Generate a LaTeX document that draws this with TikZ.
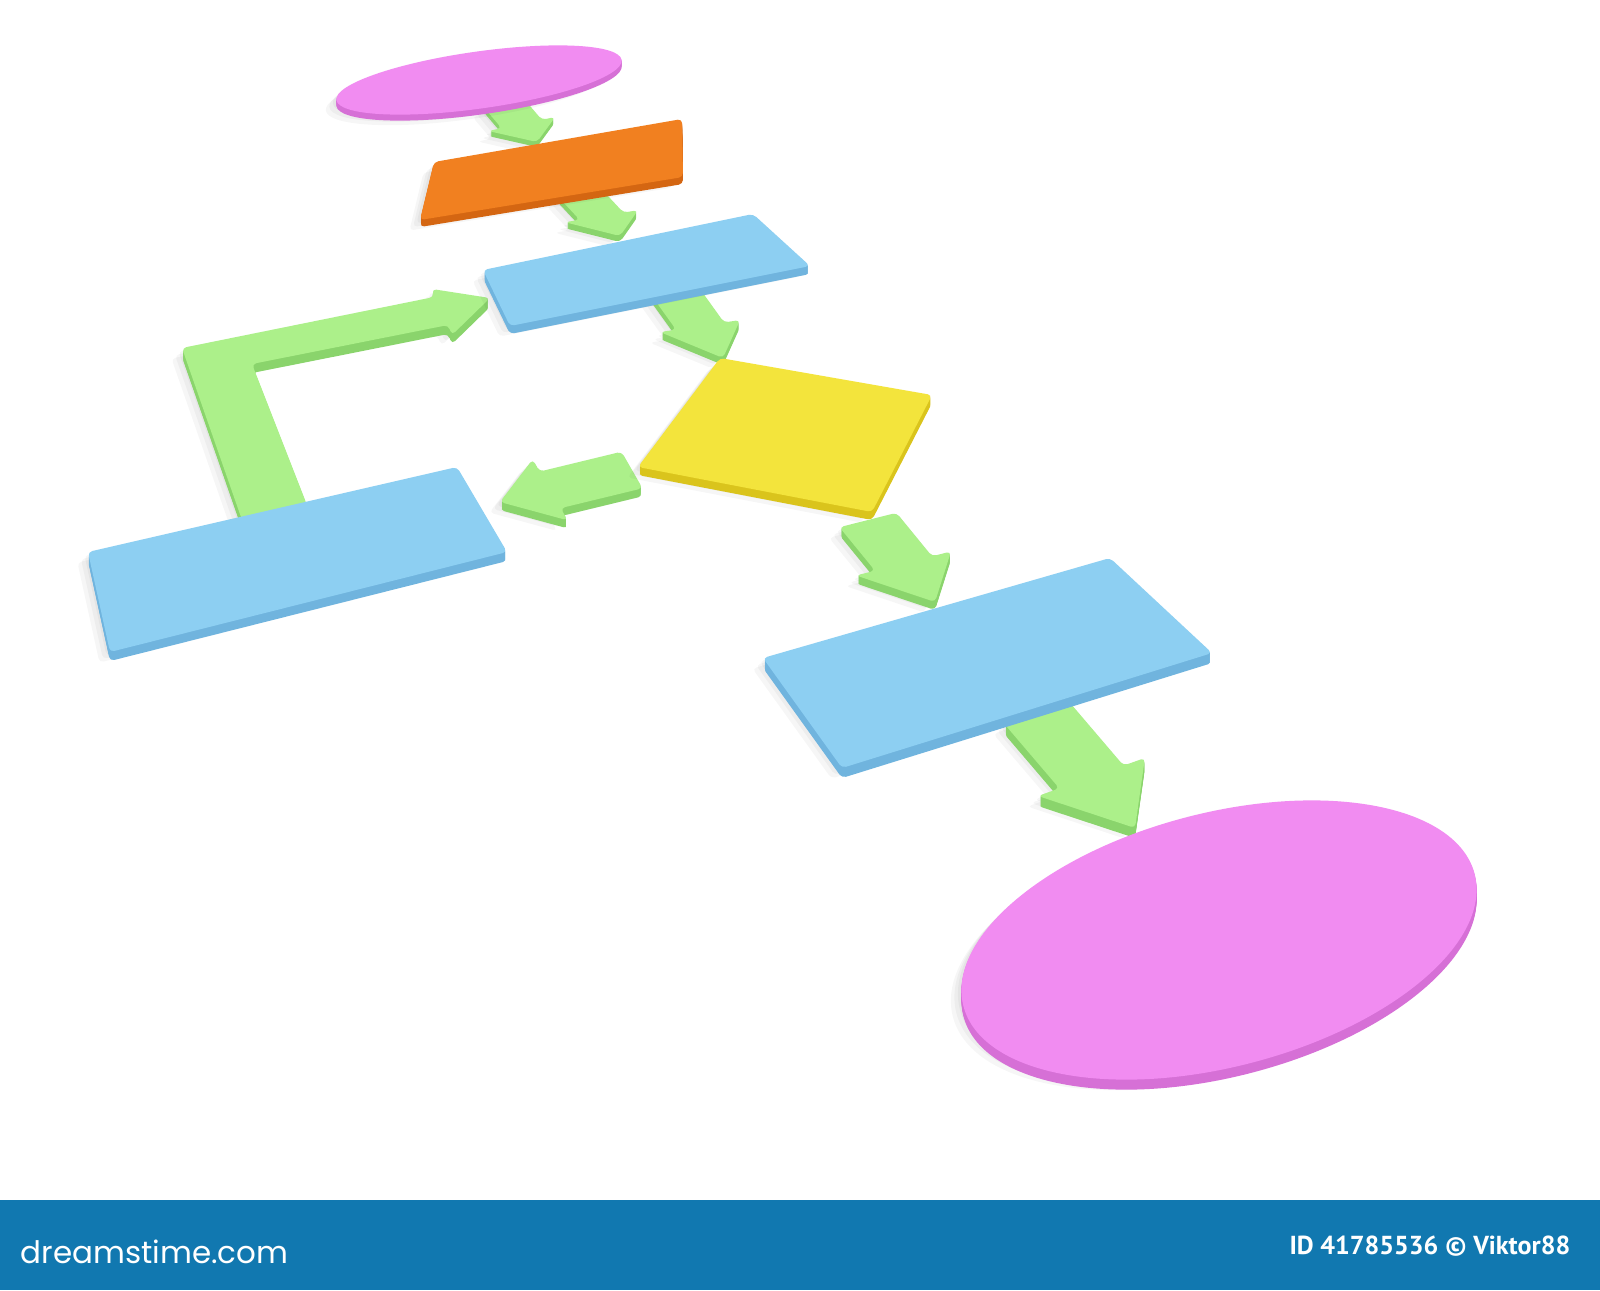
\documentclass[tikz,border=0pt]{standalone}
\usepackage{fontspec}
\usetikzlibrary{calc}
\newfontfamily\logofont{Poppins}
\newfontfamily\creditfont{PT Sans}

\definecolor{pinktop}{RGB}{241,140,241}
\definecolor{pinkside}{RGB}{214,112,214}
\definecolor{orangetop}{RGB}{241,128,32}
\definecolor{orangeside}{RGB}{212,102,18}
\definecolor{bluetop}{RGB}{141,207,242}
\definecolor{blueside}{RGB}{112,180,222}
\definecolor{yellowtop}{RGB}{243,228,60}
\definecolor{yellowside}{RGB}{218,196,28}
\definecolor{greentop}{RGB}{172,240,138}
\definecolor{greenside}{RGB}{138,212,108}
\definecolor{bannerblue}{RGB}{17,120,176}

\tikzset{
  shadowcol/.style={black, opacity=0.035},
  slabcorner/.style={rounded corners=1.2pt},
  bannertext/.style={text=white, inner sep=0pt}
}

% a flat plate seen from above: shadow, side, top face
\newcommand{\slab}[4]{%
  \foreach \sh in {1,2,3}
    {\fill[shadowcol, slabcorner, transform canvas={xshift=-\sh pt, yshift=-\sh pt}] #4;}
  \foreach \k [evaluate=\k as \dz using \k*0.2845] in {1,...,#3}
    {\fill[#2, slabcorner, transform canvas={yshift=-\dz pt}] #4;}
  \fill[#1, slabcorner] #4;}

% block arrow: tail, tip, half width of the head, where the head starts, thickness
\newcommand{\flowarrow}[5]{%
  \coordinate (t) at (#1);
  \coordinate (p) at (#2);
  \coordinate (w) at (#3);
  \coordinate (b) at ($(t)!#4!(p)$);
  \slab{greentop}{greenside}{#5}{($(t)+0.6*(w)$) -- ($(b)+0.6*(w)$) -- ($(b)+(w)$) -- (p)
    -- ($(b)-(w)$) -- ($(b)-0.6*(w)$) -- ($(t)-0.6*(w)$) -- cycle}}

\begin{document}
\begin{tikzpicture}[x=0.01cm, y=-0.01cm]
\useasboundingbox (0,0) rectangle (1600,1290);
\fill[white] (0,0) rectangle (1600,1290);

% connectors
\slab{greentop}{greenside}{9}{(182,348) -- (434,297) -- (432,289) -- (490,298) -- (452,335)
  -- (448,325) -- (252,364) -- (307,505) -- (242,520) -- cycle}
\flowarrow{503,102}{537,142}{33.5,-7}{0.55}{5}
\flowarrow{579,192}{620,236}{36.5,-6}{0.55}{6}
\flowarrow{672,287}{723,358}{40,-6}{0.55}{7}
\flowarrow{632,470}{500,502}{17.5,30.5}{0.62}{8}
\flowarrow{868,520}{935,602}{47.5,-12}{0.53}{8}
\flowarrow{1036,712}{1135,828}{53.5,-19}{0.56}{10}

% plates
\slab{pinktop}{pinkside}{6}{(479,80) ellipse [x radius=144, y radius=28.5, rotate=8]}
\slab{orangetop}{orangeside}{7}{(434,162) -- (682,119) -- (683,177) -- (420,220) -- cycle}
\slab{bluetop}{blueside}{8}{(483,270) -- (753,214) -- (810,266) -- (510,326) -- cycle}
\slab{yellowtop}{yellowside}{8}{(720,358) -- (932,395) -- (872,512) -- (638,467) -- cycle}
\slab{bluetop}{blueside}{9}{(88,552) -- (457,467) -- (507,552) -- (110,652) -- cycle}
\slab{bluetop}{blueside}{10}{(763,658) -- (1110,558) -- (1212,653) -- (842,768) -- cycle}
\slab{pinktop}{pinkside}{10}{(1219,940) ellipse [x radius=264, y radius=127, rotate=14.5]}

% banner
\fill[bannerblue] (0,1200) rectangle (1600,1290);
\node[bannertext, anchor=base west, font=\logofont\fontsize{8.8}{10}\selectfont] (logo) at (20,1263) {dreamstime.com};
\node[bannertext, anchor=base east, font=\creditfont\bfseries\fontsize{7.4}{9}\selectfont] (credit) at (1571,1254) {ID 41785536 © Viktor88};
\end{tikzpicture}
\end{document}
